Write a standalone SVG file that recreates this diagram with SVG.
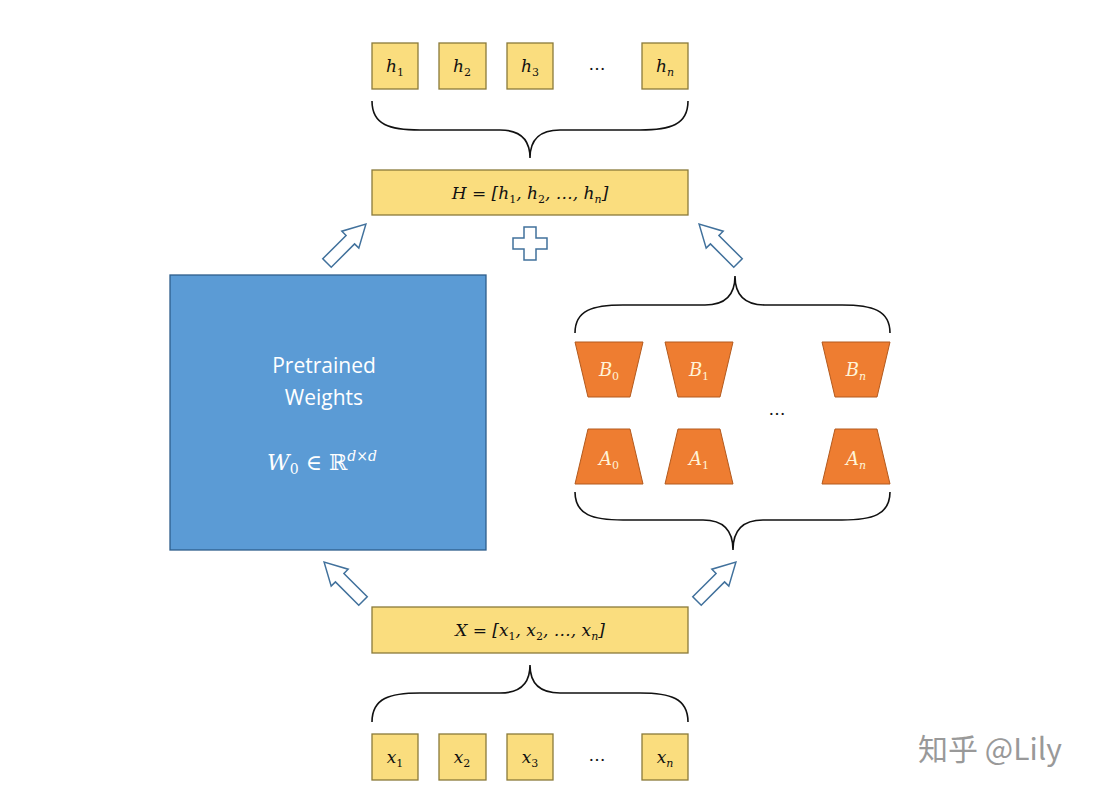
<svg xmlns="http://www.w3.org/2000/svg" width="1100" height="798" viewBox="0 0 1100 798">
<style>
.y{fill:#fadd7e;stroke:#8a7a3a;stroke-width:1.3}
.o{fill:#ee7d31;stroke:#b35a1e;stroke-width:1}
.br{fill:none;stroke:#111;stroke-width:1.6}
.ar{fill:#fff;stroke:#41719c;stroke-width:1.5}
.m{font-family:"DejaVu Serif","Liberation Serif",serif;font-style:italic;font-size:17px;fill:#111;text-anchor:middle}
.mw{font-family:"DejaVu Serif","Liberation Serif",serif;font-style:italic;font-size:18px;fill:#fff4d8;text-anchor:middle}
.s{font-size:11px;font-style:normal}
.si{font-size:11px}
</style>
<rect width="1100" height="798" fill="#fff"/>
<g id="hs">
<rect class="y" x="372" y="43" width="46" height="46"/><text class="m" x="395" y="72">h<tspan class="s" dy="4">1</tspan></text>
<rect class="y" x="439" y="43" width="47" height="46"/><text class="m" x="462" y="72">h<tspan class="s" dy="4">2</tspan></text>
<rect class="y" x="507" y="43" width="46" height="46"/><text class="m" x="530" y="72">h<tspan class="s" dy="4">3</tspan></text>
<text class="m" x="597" y="70" style="font-style:normal">…</text>
<rect class="y" x="642" y="43" width="46" height="46"/><text class="m" x="665" y="72">h<tspan class="si" dy="4">n</tspan></text>
</g>
<g id="H"><rect class="y" x="372" y="170" width="316" height="45"/><text class="m" x="530" y="199">H = [h<tspan class="s" dy="4">1</tspan><tspan dy="-4">, h</tspan><tspan class="s" dy="4">2</tspan><tspan dy="-4">, …, h</tspan><tspan class="si" dy="4">n</tspan><tspan dy="-4">]</tspan></text></g>
<g id="W"><rect x="170" y="275" width="316" height="275" fill="#5b9bd5" stroke="#2e5e8c" stroke-width="1.3"/>
<text x="324" y="373" font-family="Open Sans,Noto Sans,sans-serif" font-size="21" fill="#fff" text-anchor="middle">Pretrained</text>
<text x="324" y="405" font-family="Open Sans,Noto Sans,sans-serif" font-size="21" fill="#fff" text-anchor="middle">Weights</text>
<text x="322" y="470" font-family="DejaVu Serif,serif" font-style="italic" font-size="22" fill="#fff" text-anchor="middle">W<tspan font-size="14" font-style="normal" dy="4">0</tspan><tspan dy="-4" font-style="normal"> ∈ ℝ</tspan><tspan font-size="14" dy="-9">d×d</tspan></text></g>
<g id="lora">
<polygon class="o" points="575,342 643,342 630,397 588,397"/><text class="mw" x="609" y="376">B<tspan class="s" dy="4">0</tspan></text>
<polygon class="o" points="665,342 733,342 720,397 678,397"/><text class="mw" x="699" y="376">B<tspan class="s" dy="4">1</tspan></text>
<polygon class="o" points="822,342 890,342 877,397 835,397"/><text class="mw" x="856" y="376">B<tspan class="si" dy="4">n</tspan></text>
<polygon class="o" points="588,429 630,429 643,484 575,484"/><text class="mw" x="609" y="465">A<tspan class="s" dy="4">0</tspan></text>
<polygon class="o" points="678,429 720,429 733,484 665,484"/><text class="mw" x="699" y="465">A<tspan class="s" dy="4">1</tspan></text>
<polygon class="o" points="835,429 877,429 890,484 822,484"/><text class="mw" x="856" y="465">A<tspan class="si" dy="4">n</tspan></text>
<text class="m" x="777" y="415" style="font-style:normal">…</text>
</g>
<g id="X"><rect class="y" x="372" y="607" width="316" height="46"/><text class="m" x="530" y="636">X = [x<tspan class="s" dy="4">1</tspan><tspan dy="-4">, x</tspan><tspan class="s" dy="4">2</tspan><tspan dy="-4">, …, x</tspan><tspan class="si" dy="4">n</tspan><tspan dy="-4">]</tspan></text></g>
<g id="xs">
<rect class="y" x="372" y="734" width="46" height="46"/><text class="m" x="395" y="763">x<tspan class="s" dy="4">1</tspan></text>
<rect class="y" x="439" y="734" width="47" height="46"/><text class="m" x="462" y="763">x<tspan class="s" dy="4">2</tspan></text>
<rect class="y" x="507" y="734" width="46" height="46"/><text class="m" x="530" y="763">x<tspan class="s" dy="4">3</tspan></text>
<text class="m" x="597" y="761" style="font-style:normal">…</text>
<rect class="y" x="642" y="734" width="46" height="46"/><text class="m" x="665" y="763">x<tspan class="si" dy="4">n</tspan></text>
</g>
<g id="connectors">
<path class="br" d="M372,101 C372,125 390,130 420,130 L500,130 C520,130 530,140 530,158 C530,140 540,130 560,130 L640,130 C670,130 688,125 688,101"/>
<path class="br" d="M575,333 C575,310 593,305 623,305 L705,305 C725,305 735,295 735,276 C735,295 745,305 765,305 L842,305 C872,305 890,310 890,333"/>
<path class="br" d="M575,492 C575,515 593,520 623,520 L703,520 C723,520 733,530 733,550 C733,530 743,520 763,520 L842,520 C872,520 890,515 890,492"/>
<path class="br" d="M372,722 C372,698 390,693 420,693 L500,693 C520,693 530,683 530,665 C530,683 540,693 560,693 L640,693 C670,693 688,698 688,722"/>
<polygon class="ar" transform="translate(327,263) rotate(45)" points="-6,0 -6,-33 -12,-33 0,-55 12,-33 6,-33 6,0"/>
<polygon class="ar" transform="translate(738,263) rotate(-45)" points="-6,0 -6,-33 -12,-33 0,-55 12,-33 6,-33 6,0"/>
<polygon class="ar" transform="translate(363,601) rotate(-45)" points="-6,0 -6,-33 -12,-33 0,-55 12,-33 6,-33 6,0"/>
<polygon class="ar" transform="translate(697,601) rotate(45)" points="-6,0 -6,-33 -12,-33 0,-55 12,-33 6,-33 6,0"/>
<path class="ar" d="M524,227 h12 v11 h11 v11 h-11 v11 h-12 v-11 h-11 v-11 h11 z"/>
</g>
<text x="990" y="760" font-family="Noto Sans CJK SC,Noto Sans,sans-serif" font-size="30" fill="#999" text-anchor="middle">知乎 @Lily</text>
</svg>
